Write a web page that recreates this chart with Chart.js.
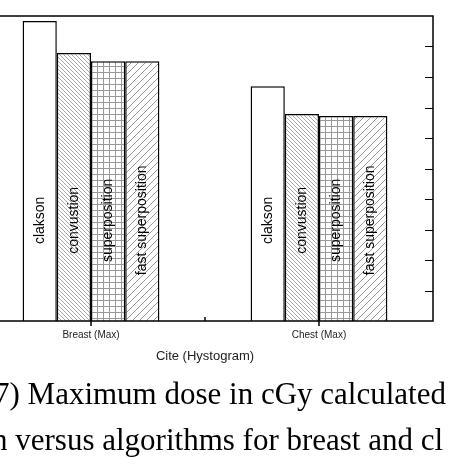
<!DOCTYPE html>
<html>
<head>
<meta charset="utf-8">
<script src="https://cdn.jsdelivr.net/npm/chart.js@4/dist/chart.umd.min.js"></script>
<style>
  body { margin: 0; background: #fff; overflow: hidden; }
  #wrap { position: absolute; left: -23px; top: 0; width: 497px; height: 474px; }
  .cap { position: absolute; font-family: "Liberation Serif", serif; font-size: 31px; color: #000; white-space: nowrap; }
</style>
</head>
<body>
<div id="wrap"><canvas id="chart"></canvas></div>
<div class="cap" style="left:-6px; top:376px;">7) Maximum dose in cGy calculated</div>
<div class="cap" style="left:-8px; top:422px;">n versus algorithms for breast and cl</div>
<script>
const categories = ['Breast (Max)', 'Chest (Max)'];
const algorithms = ['clakson', 'convustion', 'superposition', 'fast superposition'];
const clakson = [9.84, 7.7];
const convustion = [8.79, 6.79];
const superposition = [8.52, 6.72];
const fastSuperposition = [8.52, 6.72];
const yTicks = [1, 2, 3, 4, 5, 6, 7, 8, 9];

function makePattern(kind) {
    const c = document.createElement('canvas');
    const s = kind === 'grid' ? 6 : (kind === 'dense' ? 4 : 7);
    c.width = s; c.height = s;
    const g = c.getContext('2d');
    g.fillStyle = '#fff';
    g.fillRect(0, 0, s, s);
    g.strokeStyle = kind === 'dense' ? '#aaa' : '#999';
    g.lineWidth = 1;
    if (kind === 'grid') {
        g.beginPath();
        g.moveTo(0, 0.5); g.lineTo(s, 0.5);
        g.moveTo(0.5, 0); g.lineTo(0.5, s);
        g.stroke();
    } else if (kind === 'dense') {
        g.beginPath();
        g.moveTo(0, 0); g.lineTo(s, s);
        g.moveTo(-s, 0); g.lineTo(s, 2 * s);
        g.stroke();
    } else {
        g.beginPath();
        g.moveTo(0, s); g.lineTo(s, 0);
        g.moveTo(-1, 1); g.lineTo(1, -1);
        g.moveTo(s - 1, s + 1); g.lineTo(s + 1, s - 1);
        g.stroke();
    }
    return g.createPattern(c, 'repeat');
}

const decor = {
    id: 'decor',
    afterDatasetsDraw(chart) {
        const ctx = chart.ctx;
        const a = chart.chartArea;
        const x = chart.scales.x, y = chart.scales.y;
        ctx.save();
        // bar labels
        ctx.fillStyle = '#000';
        ctx.font = '14px "Liberation Sans", Arial, sans-serif';
        ctx.textAlign = 'center';
        ctx.textBaseline = 'middle';
        chart.data.datasets.forEach((ds, i) => {
            chart.getDatasetMeta(i).data.forEach(bar => {
                ctx.save();
                ctx.translate(bar.x, y.getPixelForValue(3.3));
                ctx.rotate(-Math.PI / 2);
                ctx.fillText(ds.label, 0, 0);
                ctx.restore();
            });
        });
        // frame
        ctx.strokeStyle = '#000';
        ctx.lineWidth = 1.5;
        ctx.strokeRect(a.left, a.top, a.right - a.left, a.bottom - a.top);
        // right-side ticks
        ctx.lineWidth = 1;
        yTicks.forEach(v => {
            const py = Math.round(y.getPixelForValue(v)) + 0.5;
            ctx.beginPath();
            ctx.moveTo(a.right, py);
            ctx.lineTo(a.right - 8, py);
            ctx.stroke();
        });
        // x ticks
        ctx.lineWidth = 1.5;
        categories.forEach((c, i) => {
            const px = x.getPixelForValue(i);
            ctx.beginPath();
            ctx.moveTo(px, a.bottom);
            ctx.lineTo(px, a.bottom + 5);
            ctx.stroke();
        });
        const mid = (x.getPixelForValue(0) + x.getPixelForValue(1)) / 2;
        ctx.beginPath();
        ctx.moveTo(mid, a.bottom);
        ctx.lineTo(mid, a.bottom - 4);
        ctx.stroke();
        // x labels
        ctx.font = '10px "Liberation Sans", Arial, sans-serif';
        ctx.fillStyle = '#222';
        ctx.textBaseline = 'top';
        categories.forEach((c, i) => ctx.fillText(c, x.getPixelForValue(i), a.bottom + 9));
        ctx.font = '13px "Liberation Sans", Arial, sans-serif';
        ctx.fillText('Cite (Hystogram)', mid, a.bottom + 29);
        ctx.restore();
    }
};

const fills = ['#fff', makePattern('dense'), makePattern('grid'), makePattern('sparse')];
const series = [clakson, convustion, superposition, fastSuperposition];

new Chart(document.getElementById('chart'), {
    type: 'bar',
    data: {
        labels: categories,
        datasets: algorithms.map((name, i) => ({
            label: name,
            data: series[i],
            backgroundColor: fills[i],
            borderColor: '#000',
            borderWidth: 1.5,
            categoryPercentage: 0.6,
            barPercentage: 1.0
        }))
    },
    options: {
        responsive: true,
        maintainAspectRatio: false,
        animation: false,
        layout: { padding: { top: 16, bottom: 153, left: 0, right: 41 } },
        plugins: { legend: { display: false }, tooltip: { enabled: false } },
        scales: {
            x: { display: false },
            y: { display: false, min: 0, max: 10 }
        }
    },
    plugins: [decor]
});
</script>
</body>
</html>
